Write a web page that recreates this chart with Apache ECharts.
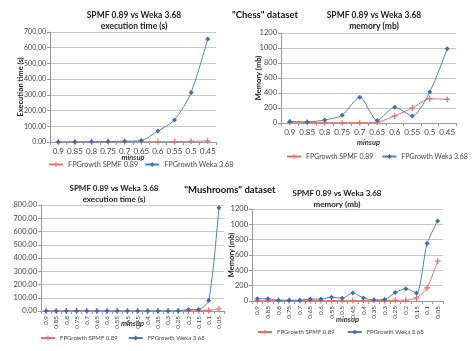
<!DOCTYPE html>
<html>
<head>
<meta charset="utf-8">
<script src="https://cdn.jsdelivr.net/npm/echarts@6/dist/echarts.min.js"></script>
<style>html,body{margin:0;padding:0;background:#fff}#c{width:474px;height:351px}</style>
</head>
<body>
<div id="c"></div>
<script>
// ---- data ----
var chessMinsup = ['0.9','0.85','0.8','0.75','0.7','0.65','0.6','0.55','0.5','0.45'];
var chessTimeSPMF = [0.5, 0.5, 1, 1, 1, 1.5, 2, 3, 4, 6];
var chessTimeWeka = [0, 0, 2, 3, 5, 10, 70, 140, 315, 655];
var chessMemSPMF = [10, 8, 5, 5, 5, 10, 95, 200, 325, 315];
var chessMemWeka = [20, 15, 40, 105, 345, 35, 210, 95, 415, 990];

var mushMinsup = ['0.9','0.85','0.8','0.75','0.7','0.65','0.6','0.55','0.5','0.45','0.4','0.35','0.3','0.25','0.2','0.15','0.1','0.05'];
var mushTimeSPMF = [0.5, 0.5, 0.5, 0.5, 0.5, 0.5, 0.5, 0.5, 0.5, 0.5, 0.5, 0.5, 0.5, 1, 1, 2, 5, 15];
var mushTimeWeka = [0, 0, 0, 0, 0, 0, 0, 0, 0, 0, 0, 0, 0, 2, 10, 12, 80, 780];
var mushMemSPMF = [5, 5, 5, 5, 5, 5, 5, 5, 5, 5, 5, 5, 5, 10, 10, 40, 170, 520];
var mushMemWeka = [30, 30, 10, 10, 10, 25, 25, 50, 35, 105, 40, 15, 20, 110, 160, 105, 750, 1045];

var nameSPMF = 'FPGrowth SPMF 0.89';
var nameWeka = 'FPGrowth Weka 3.68';

// ---- styling ----
var FONT = 'Lato, "Liberation Sans", sans-serif';
var BLUE = '#4f81bd';
var RED = '#e0706c';
var PLUS = 'path://M4,0h2v4h4v2h-4v4h-2v-4h-4v-2h4z';

var grids = [
  {left: 50, top: 32, width: 166, height: 110},
  {left: 281, top: 33, width: 175, height: 90},
  {left: 41, top: 205, width: 183, height: 106},
  {left: 252, top: 209, width: 191, height: 92}
];

function xAx(i, cats, rotate, nameGap, fs) {
  return {
    type: 'category', gridIndex: i, data: cats, boundaryGap: true,
    name: 'minsup', nameLocation: 'middle', nameGap: nameGap, nameMoveOverlap: false,
    nameTextStyle: {fontFamily: FONT, fontSize: 7.5, fontWeight: 'bold', fontStyle: 'italic', color: '#333'},
    axisLine: {lineStyle: {color: '#999'}},
    axisTick: {show: true, alignWithLabel: false, length: 3, lineStyle: {color: '#999'}},
    axisLabel: {fontFamily: FONT, fontSize: fs, color: '#444', rotate: rotate, margin: 5, interval: 0}
  };
}
function yAx(i, max, interval, decimals, name, nameGap, fs) {
  return {
    type: 'value', gridIndex: i, min: 0, max: max, interval: interval,
    name: name, nameLocation: 'middle', nameGap: nameGap, nameRotate: 90, nameMoveOverlap: false,
    nameTextStyle: {fontFamily: FONT, fontSize: 7.5, fontWeight: 'bold', color: '#222'},
    axisLine: {show: true, lineStyle: {color: '#999'}},
    axisTick: {show: true, length: 3, lineStyle: {color: '#999'}},
    axisLabel: {fontFamily: FONT, fontSize: fs, color: '#444', margin: 4,
      formatter: function (v) { return decimals ? v.toFixed(2) : String(v); }},
    splitLine: {lineStyle: {color: '#c8c8c8'}}
  };
}
function ser(i, name, data, isWeka) {
  return {
    type: 'line', name: name, xAxisIndex: i, yAxisIndex: i, data: data,
    smooth: isWeka ? 0.25 : 0.2,
    symbol: isWeka ? 'diamond' : PLUS,
    symbolSize: isWeka ? 5 : 6,
    lineStyle: {width: 1, color: isWeka ? BLUE : RED},
    itemStyle: {color: isWeka ? '#3d6fb0' : RED},
    z: isWeka ? 3 : 2,
    animation: false
  };
}
function leg(left, top, gap, fs) {
  return {
    left: left, top: top, width: 300, itemGap: gap, itemWidth: 14, itemHeight: 6,
    data: [nameSPMF, nameWeka],
    textStyle: {fontFamily: FONT, fontSize: fs, color: '#444'},
    padding: 0
  };
}
function ttl(x, y, line2, fs) {
  return {
    text: 'SPMF 0.89 vs Weka 3.68\n' + line2, left: x, top: y, textAlign: 'center',
    padding: 0,
    textStyle: {fontFamily: FONT, fontSize: fs, fontWeight: 'bold', color: '#222', lineHeight: 11, align: 'center'}
  };
}

var chart = echarts.init(document.getElementById('c'), null, {renderer: 'canvas'});
chart.setOption({
  animation: false,
  backgroundColor: '#fff',
  title: [
    ttl(134, 10, 'execution time (s)', 8.5),
    ttl(374, 10, 'memory (mb)', 8.5),
    ttl(114, 183, 'execution time (s)', 8),
    ttl(337, 188, 'memory (mb)', 8),
    {text: '"Chess" dataset', left: 265, top: 10, textAlign: 'center', padding: 0,
      textStyle: {fontFamily: FONT, fontSize: 9.5, fontWeight: 'bold', color: '#111'}},
    {text: '"Mushrooms" dataset', left: 230, top: 185, textAlign: 'center', padding: 0,
      textStyle: {fontFamily: FONT, fontSize: 9.5, fontWeight: 'bold', color: '#111'}}
  ],
  grid: grids,
  xAxis: [
    xAx(0, chessMinsup, 0, 12, 8),
    xAx(1, chessMinsup, 0, 16, 8),
    xAx(2, mushMinsup, 90, 9, 6.5),
    xAx(3, mushMinsup, 90, 15, 6.5)
  ],
  yAxis: [
    yAx(0, 700, 100, true, 'Execution time (s)', 25, 7),
    yAx(1, 1200, 200, false, 'Memory (mb)', 18, 7.5),
    yAx(2, 800, 100, true, '', 30, 7.5),
    yAx(3, 1200, 200, false, 'Memory (mb)', 16, 7.5)
  ],
  legend: [
    leg(48, 161, 6, 7.3),
    leg(286, 153, 8, 7),
    leg(40, 335, 10, 6),
    leg(257, 329, 12, 6)
  ],
  series: [
    ser(0, nameSPMF, chessTimeSPMF, false),
    ser(0, nameWeka, chessTimeWeka, true),
    ser(1, nameSPMF, chessMemSPMF, false),
    ser(1, nameWeka, chessMemWeka, true),
    ser(2, nameSPMF, mushTimeSPMF, false),
    ser(2, nameWeka, mushTimeWeka, true),
    ser(3, nameSPMF, mushMemSPMF, false),
    ser(3, nameWeka, mushMemWeka, true)
  ]
});
</script>
</body>
</html>
